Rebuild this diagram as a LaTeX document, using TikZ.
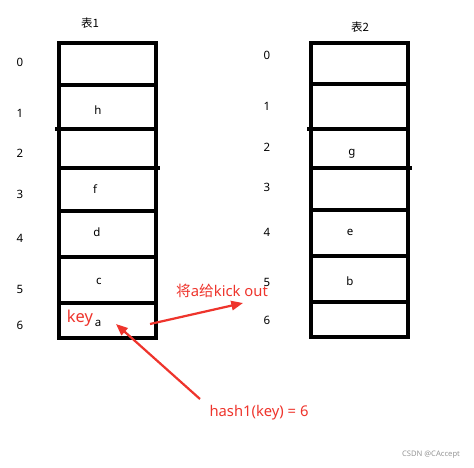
\documentclass[tikz,border=0pt]{standalone}
\usepackage{fontspec}
\setmainfont{Noto Sans}
\newfontfamily\cjk{Noto Sans CJK SC}
\usepackage{xcolor}
\usetikzlibrary{arrows.meta}
\definecolor{mark}{RGB}{238,52,44}
\definecolor{wm}{RGB}{150,150,150}

\begin{document}
\begin{tikzpicture}[
  x=0.03cm,y=-0.03cm,
  tbl/.style={draw,line width=2.6pt,line cap=rect},
  idx/.style={font=\fontsize{9.8}{11}\selectfont},
  val/.style={font=\fontsize{9.8}{11}\selectfont},
  note/.style={text=mark,font=\fontsize{12.6}{14}\selectfont,inner sep=0pt},
  arr/.style={draw=mark,line width=1.9pt,-{Triangle[length=10pt,width=8pt]}}
]
\useasboundingbox (0,0) rectangle (474,467);
% table 1
\node[idx] (t1) at (90,23) {\cjk 表1};
\draw[tbl] (59,43) rectangle (156,338);
\foreach \y in {85,211,257,303}
  \draw[tbl] (59,\y) -- (156,\y);
\draw[tbl] (57,129) -- (156,129);
\draw[tbl] (59,168) -- (158,168);
\foreach \i/\y in {0/62,1/113,2/153,3/194,4/238,5/289,6/325}
  \node[idx] (la\i) at (20,\y) {\i};
\node[val] (h) at (98,110) {h};
\node[val] (f) at (95,189) {f};
\node[val] (d) at (97,232) {d};
\node[val] (c) at (99,281) {c};
\node[val] (a) at (98,323) {a};
% table 2
\node[idx] (t2) at (360,27) {\cjk 表2};
\draw[tbl] (311,43) rectangle (408,337);
\foreach \y in {84,210,256,302}
  \draw[tbl] (311,\y) -- (408,\y);
\draw[tbl] (309,129) -- (408,129);
\draw[tbl] (311,168) -- (410,168);
\foreach \i/\y in {0/55,1/106,2/147,3/187,4/232,5/282,6/320}
  \node[idx] (lb\i) at (267,\y) {\i};
\node[val] (g) at (352,154) {g};
\node[val] (e) at (350,232) {e};
\node[val] (b) at (350,281) {b};
% notes
\node[note,font=\fontsize{14}{16}\selectfont] (key) at (80,318) {key};
\node[note] (kick) at (222,291) {{\cjk 将}a{\cjk 给}kick out};
\node[note] (hash) at (259,413) {hash1(key) = 6};
\coordinate (src) at (150,324);
\coordinate (dst) at (243,303);
\coordinate (tail) at (200,399);
\coordinate (hit) at (116,324);
\draw[arr] (src) -- (dst);
\draw[arr] (tail) -- (hit);
\node[text=wm,font=\fontsize{6.5}{8}\selectfont] (csdn) at (431,455) {CSDN @CAccept};
\end{tikzpicture}
\end{document}
